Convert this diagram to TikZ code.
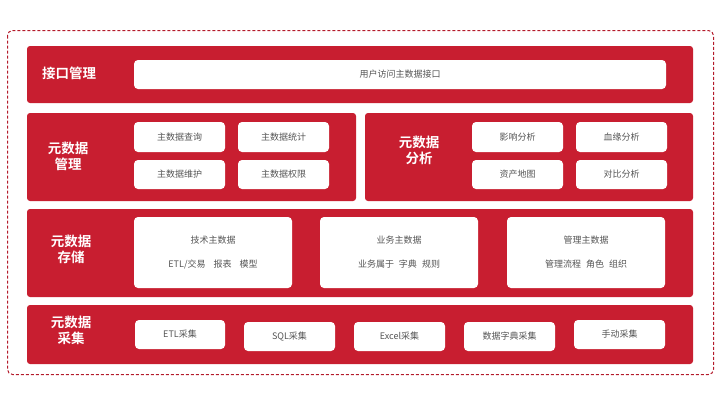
\documentclass[tikz,border=0pt]{standalone}
\usepackage{fontspec}
\setmainfont{Noto Sans CJK SC}[BoldFont={Noto Sans CJK SC Bold}]
\definecolor{layerred}{RGB}{200,30,48}
\definecolor{itemgray}{RGB}{85,85,85}
\tikzset{
    layer/.style={fill=layerred, rounded corners=3pt, inner sep=0pt},
    item/.style={fill=white, rounded corners=4pt, inner sep=0pt, text=itemgray,
        font=\fontsize{9}{11}\selectfont, align=center},
    title/.style={text=white, font=\fontsize{13.5}{16}\selectfont\bfseries, align=center}
}

\begin{document}
\begin{tikzpicture}[x=1pt,y=-1pt]
    \useasboundingbox (0,0) rectangle (720,405);
    %outer frame
    \draw[layerred!90!black, line width=1pt, dash pattern=on 3pt off 2pt, rounded corners=5pt] (7.5,30.5) rectangle (713.5,374.5);

    %interface
    \node[layer, minimum width=666pt, minimum height=57pt] (api) at (360,74.5) {};
    \node[title] (apititle) at (69,73) {接口管理};
    \node[item, minimum width=532pt, minimum height=29pt] (apiuser) at (400,74.5) {用户访问主数据接口};

    %management
    \node[layer, minimum width=329pt, minimum height=88pt] (mgmt) at (191.5,157) {};
    \node[title] (mgmttitle) at (68,156) {元数据\\管理};
    \node[item, minimum width=91pt, minimum height=30pt] (query) at (179.5,137) {主数据查询};
    \node[item, minimum width=91pt, minimum height=30pt] (stats) at (283.5,137) {主数据统计};
    \node[item, minimum width=91pt, minimum height=29pt] (maint) at (179.5,174.5) {主数据维护};
    \node[item, minimum width=91pt, minimum height=29pt] (perm) at (283.5,174.5) {主数据权限};

    %analysis
    \node[layer, minimum width=328pt, minimum height=88pt] (anal) at (529,157) {};
    \node[title] (analtitle) at (419,150) {元数据\\分析};
    \node[item, minimum width=91pt, minimum height=30pt] (impact) at (517.5,137) {影响分析};
    \node[item, minimum width=91pt, minimum height=30pt] (lineage) at (621.5,137) {血缘分析};
    \node[item, minimum width=91pt, minimum height=29pt] (assetmap) at (517.5,174.5) {资产地图};
    \node[item, minimum width=91pt, minimum height=29pt] (compare) at (621.5,174.5) {对比分析};

    %storage
    \node[layer, minimum width=666pt, minimum height=88pt] (store) at (360,253) {};
    \node[title] (storetitle) at (71,249) {元数据\\存储};
    \node[item, minimum width=158pt, minimum height=71pt] (tech) at (213,252.5)
        {技术主数据\\[13pt]ETL/交易\hspace{8pt}报表\hspace{8pt}模型};
    \node[item, minimum width=158pt, minimum height=71pt] (biz) at (399,252.5)
        {业务主数据\\[13pt]业务属于\hspace{5pt}字典\hspace{5pt}规则};
    \node[item, minimum width=158pt, minimum height=71pt] (admin) at (586,252.5)
        {管理主数据\\[13pt]管理流程\hspace{5pt}角色\hspace{5pt}组织};

    %collection
    \node[layer, minimum width=666pt, minimum height=59pt] (collect) at (360,334.5) {};
    \node[title] (collecttitle) at (71,330) {元数据\\采集};
    \node[item, minimum width=90pt, minimum height=29pt] (etl) at (180,334.5) {ETL采集};
    \node[item, minimum width=91pt, minimum height=29pt] (sql) at (289.5,336.5) {SQL采集};
    \node[item, minimum width=91pt, minimum height=29pt] (excel) at (399.5,336.5) {Excel采集};
    \node[item, minimum width=91pt, minimum height=29pt] (dict) at (509.5,336.5) {数据字典采集};
    \node[item, minimum width=91pt, minimum height=29pt] (manual) at (619.5,334.5) {手动采集};
\end{tikzpicture}
\end{document}
